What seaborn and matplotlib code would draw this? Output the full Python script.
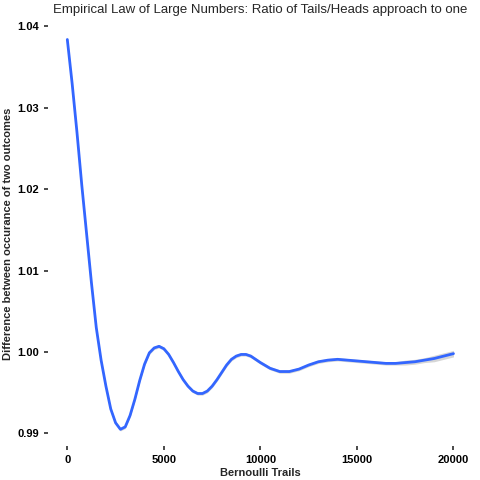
import matplotlib
matplotlib.use("Agg")
import matplotlib.pyplot as plt
import seaborn as sns
import pandas as pd

trials = [0, 250, 500, 750, 1000, 1250, 1500, 1750, 2000, 2250, 2500, 2750, 3000, 3250, 3500,
          3750, 4000, 4250, 4500, 4750, 5000, 5250, 5500, 5750, 6000, 6250, 6500, 6750, 7000,
          7250, 7500, 7750, 8000, 8250, 8500, 8750, 9000, 9250, 9500, 9750, 10000, 10500,
          11000, 11500, 12000, 12500, 13000, 13500, 14000, 14500, 15000, 15500, 16000, 16500,
          17000, 17500, 18000, 18500, 19000, 19500, 20000]
ratio = [1.0384, 1.0330, 1.0270, 1.0205, 1.0145, 1.0085, 1.0030, 0.9990, 0.9958, 0.9930,
         0.9913, 0.9905, 0.9908, 0.9922, 0.9942, 0.9965, 0.9985, 0.9999, 1.0005, 1.0007,
         1.0004, 0.9997, 0.9987, 0.9976, 0.9966, 0.9958, 0.9952, 0.9949, 0.9949, 0.9952,
         0.9958, 0.9966, 0.9975, 0.9984, 0.9991, 0.9995, 0.9997, 0.9997, 0.9995, 0.9991,
         0.9987, 0.9980, 0.9976, 0.9976, 0.9979, 0.9984, 0.9988, 0.9990, 0.9991, 0.9990,
         0.9989, 0.9988, 0.9987, 0.9986, 0.9986, 0.9987, 0.9988, 0.9990, 0.9992, 0.9995,
         0.9998]
band = [0.0003] * 4 + [0.0002] * 51 + [0.0003] * 3 + [0.0004] * 3

df = pd.DataFrame({"x": trials, "y": ratio, "se": band})

sns.set_theme(style="white")
plt.rcParams['font.family'] = ['Liberation Sans', 'DejaVu Sans']
fig, ax = plt.subplots(figsize=(4.8, 4.8), dpi=100)
ax.fill_between(df["x"], df["y"] - df["se"], df["y"] + df["se"], color="#999999", alpha=0.4, lw=0)
sns.lineplot(data=df, x="x", y="y", ax=ax, color="#3366FF", lw=2)
sns.despine(ax=ax, left=True, bottom=True)
ax.set_xlim(-1000, 21000)
ax.set_ylim(0.9884, 1.0406)
ax.set_xticks([0, 5000, 10000, 15000, 20000])
ax.set_yticks([0.99, 1.00, 1.01, 1.02, 1.03, 1.04])
ax.set_yticklabels(["0.99", "1.00", "1.01", "1.02", "1.03", "1.04"])
ax.tick_params(axis="both", labelsize=8, length=3, left=True, bottom=True, color="#333333")
for t in ax.get_xticklabels() + ax.get_yticklabels():
    t.set_fontweight("bold")
    t.set_color("black")
ax.set_xlabel("Bernoulli Trails", fontsize=8, fontweight="bold", labelpad=2)
ax.set_ylabel("Difference between occurance of two outcomes", fontsize=8, fontweight="bold", labelpad=3)
ax.set_title("Empirical Law of Large Numbers: Ratio of Tails/Heads approach to one", fontsize=9.5)
fig.subplots_adjust(left=0.1, right=0.985, top=0.955, bottom=0.07)
fig.savefig("out.png")
